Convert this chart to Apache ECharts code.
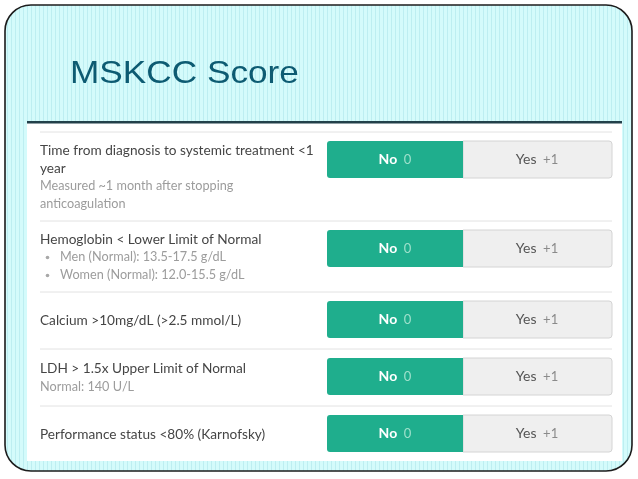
<!DOCTYPE html>
<html><head><meta charset="utf-8">
<script src="https://cdn.jsdelivr.net/npm/echarts@6/dist/echarts.min.js"></script>
<style>html,body{margin:0;padding:0;background:#fff}#c{width:638px;height:479px}</style>
</head><body><div id="c"></div><script>
// ---- data ----
const slideTitle = 'MSKCC Score';
const criteria = [
  'Time from diagnosis to systemic treatment <1\nyear',
  'Hemoglobin < Lower Limit of Normal',
  'Calcium >10mg/dL (>2.5 mmol/L)',
  'LDH > 1.5x Upper Limit of Normal',
  'Performance status <80% (Karnofsky)'
];
const notes = ['Measured ~1 month after stopping\nanticoagulation', '', '', 'Normal: 140 U/L', ''];
const bullets = [[], ['Men (Normal): 13.5-17.5 g/dL', 'Women (Normal): 12.0-15.5 g/dL'], [], [], []];
const optionLabels = ['No', 'Yes'];
const noPoints = [0, 0, 0, 0, 0];
const yesPoints = [1, 1, 1, 1, 1];
const selectedOption = [0, 0, 0, 0, 0];

// ---- layout derived from the text ----
const rows = criteria.map((c, i) => {
  const t = c.split('\n');
  const n = notes[i] ? notes[i].split('\n') : [];
  const lines = [];
  t.forEach(s => lines.push({ kind: 'title', s }));
  n.forEach(s => lines.push({ kind: 'note', s }));
  bullets[i].forEach(s => lines.push({ kind: 'bullet', s }));
  return { lines, h: Math.max(57, 18 * lines.length + 17) };
});
let acc = 0;
const rowData = rows.map((r, i) => { const v = [i, acc, r.h]; acc += r.h; return v; });
const totalH = acc;

const fmtPts = p => (p > 0 ? '+' + p : '' + p);
const FONT = 'Lato, "Noto Sans", sans-serif';

// stripe pattern for slide background
const pc = document.createElement('canvas');
pc.width = 4; pc.height = 4;
const pctx = pc.getContext('2d');
pctx.fillStyle = '#d4fbfb'; pctx.fillRect(0, 0, 4, 4);
pctx.fillStyle = '#bdeef1'; pctx.fillRect(3, 0, 1, 4);

const chart = echarts.init(document.getElementById('c'), null, { renderer: 'canvas' });

function renderItem(params, api) {
  const i = api.value(0);
  const top = api.value(1);
  const cs = params.coordSys;
  const x0 = cs.x;
  const yTop = api.coord([0, top])[1];
  const row = rows[i];
  const children = [];
  children.push({
    type: 'line',
    shape: { x1: x0 + 13, y1: yTop, x2: x0 + 585, y2: yTop },
    style: { stroke: '#e2e2e2', lineWidth: 1 }
  });
  const by = yTop + 9, bh = 37;
  const sel = selectedOption[i];
  children.push({
    type: 'rect',
    shape: { x: x0 + 436, y: by, width: 149, height: bh, r: [0, 3, 3, 0] },
    style: { fill: sel === 1 ? '#1fae8d' : '#efefef', stroke: '#d4d4d4', lineWidth: 1 }
  });
  children.push({
    type: 'rect',
    shape: { x: x0 + 300, y: by, width: 136, height: bh, r: [3, 0, 0, 3] },
    style: { fill: sel === 0 ? '#1fae8d' : '#efefef' }
  });
  const cy = by + bh / 2;
  const mk = (label, pts, cx, on) => ({
    type: 'text',
    style: {
      x: cx, y: cy, align: 'center', verticalAlign: 'middle',
      text: '{a|' + label + '}  {b|' + fmtPts(pts) + '}',
      rich: {
        a: { fontFamily: FONT, fontSize: 14, fontWeight: on ? 'bold' : 'normal', fill: on ? '#ffffff' : '#555555' },
        b: { fontFamily: FONT, fontSize: 13, fill: on ? '#9ee0cb' : '#8a8a8a' }
      }
    }
  });
  children.push(mk(optionLabels[0], noPoints[i], x0 + 368, sel === 0));
  children.push(mk(optionLabels[1], yesPoints[i], x0 + 510, sel === 1));

  const n = row.lines.length;
  const firstY = yTop + Math.max(18, 28 - (n - 1) * 8.5);
  row.lines.forEach((ln, k) => {
    const y = firstY + k * 18;
    if (ln.kind === 'bullet') {
      children.push({ type: 'circle', shape: { cx: x0 + 20.5, cy: y + 0.5, r: 1.8 }, style: { fill: '#a8a8a8' } });
    }
    const tx = ln.kind === 'bullet' ? x0 + 33 : x0 + 13;
    children.push({
      type: 'text',
      x: tx, y: y, scaleX: 0.975,
      style: {
        x: 0, y: 0,
        verticalAlign: 'middle', align: 'left', text: ln.s,
        fontFamily: FONT,
        fontSize: ln.kind === 'title' ? 14 : 13,
        fill: ln.kind === 'title' ? '#454545' : '#9c9c9c'
      }
    });
  });
  return { type: 'group', children };
}

chart.setOption({
  animation: false,
  backgroundColor: '#ffffff',
  grid: { left: 27, right: 16, top: 132, bottom: 479 - 132 - totalH, containLabel: false },
  xAxis: { type: 'value', min: 0, max: 1, show: false },
  yAxis: { type: 'value', min: 0, max: totalH, inverse: true, show: false },
  graphic: [
    { type: 'rect', z: 0, shape: { x: 5, y: 5, width: 627, height: 466, r: 26 },
      style: { fill: { image: pc, repeat: 'repeat' }, stroke: '#1c1c1c', lineWidth: 1.6 } },
    { type: 'rect', z: 1, shape: { x: 27, y: 122, width: 595, height: 339 }, style: { fill: '#ffffff' } },
    { type: 'rect', z: 2, shape: { x: 27, y: 121, width: 595, height: 2.5 }, style: { fill: '#22404a' } },
    { type: 'text', z: 2, x: 70, y: 74, scaleX: 1.1, originX: 0,
      style: { text: slideTitle, x: 0, y: 0, verticalAlign: 'middle', fontFamily: '"Liberation Sans", Arial, sans-serif', fontSize: 32, fill: '#0d5b72' } }
  ],
  series: [{
    type: 'custom', z: 10, clip: false,
    renderItem,
    encode: { x: -1, y: 1 },
    data: rowData
  }]
});
</script></body></html>
